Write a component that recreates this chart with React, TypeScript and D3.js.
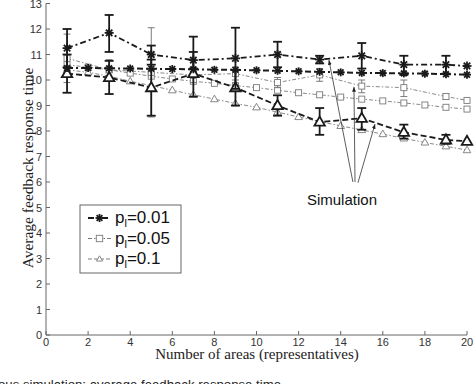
import React from "react";
import * as d3 from "d3";

const W = 474;
const H = 384;

const allX = [1, 2, 3, 4, 5, 6, 7, 8, 9, 10, 11, 12, 13, 14, 15, 16, 17, 18, 19, 20];
const simX = [1, 3, 5, 7, 9, 11, 13, 15, 17, 19, 20];

// p=0.01
const starSim = [11.25, 11.85, 11.0, 10.78, 10.85, 11.0, 10.8, 10.95, 10.6, 10.6, 10.55];
const starLo = [10.5, 11.1, 10.6, 10.45, 9.65, 10.5, 10.65, 10.45, 10.2, 10.25, null];
const starHi = [12.0, 12.55, 11.35, 11.7, 12.05, 11.5, 10.95, 11.45, 10.95, 10.95, null];
const starAna = [10.47, 10.47, 10.46, 10.45, 10.44, 10.43, 10.42, 10.4, 10.4, 10.38, 10.36, 10.34, 10.32, 10.3, 10.28, 10.27, 10.26, 10.25, 10.23, 10.21];

// p=0.05
const sqSim = [10.85, 10.4, 10.3, 10.2, 10.25, 9.9, 10.2, 9.76, 9.7, 9.35, 9.2];
const sqLo = [9.9, 10.0, 8.55, 9.9, 10.0, 9.7, 9.95, 9.5, 9.35, 9.25, null];
const sqHi = [11.8, 10.8, 12.05, 10.5, 10.5, 10.1, 10.45, 10.0, 10.0, 9.45, null];
const sqAna = [10.6, 10.5, 10.4, 10.27, 10.15, 10.04, 9.95, 9.87, 9.78, 9.7, 9.6, 9.5, 9.42, 9.33, 9.25, 9.18, 9.1, 9.02, 8.93, 8.86];

// p=0.1
const triSim = [10.25, 10.1, 9.7, 10.25, 9.7, 9.0, 8.35, 8.5, 7.95, 7.65, 7.6];
const triLo = [9.5, 9.45, 8.6, 9.35, 9.0, 8.6, 7.85, 8.05, 7.7, 7.5, null];
const triHi = [11.0, 10.75, 10.8, 11.1, 10.4, 9.4, 8.9, 8.9, 8.25, 7.85, null];
const triAna = [10.4, 10.3, 10.15, 9.95, 9.78, 9.6, 9.42, 9.25, 9.08, 8.93, 8.74, 8.55, 8.37, 8.2, 8.04, 7.88, 7.71, 7.55, 7.4, 7.25];

const xTicks = [0, 2, 4, 6, 8, 10, 12, 14, 16, 18, 20];
const yTicks = [0, 1, 2, 3, 4, 5, 6, 7, 8, 9, 10, 11, 12, 13];
const legendLabels = ["0.01", "0.05", "0.1"];

// annotation arrows (data units): base -> tip
const arrowBaseX = [14.58, 14.68, 14.82];
const arrowBaseY = [6.0, 6.0, 5.97];
const arrowTipX = [13.44, 14.63, 15.63];
const arrowTipY = [10.78, 9.73, 8.27];

const BLACK = "#1a1a1a";
const GRAY = "#7a7a7a";

const x = d3.scaleLinear().domain([0, 20]).range([46, 467]);
const y = d3.scaleLinear().domain([0, 13]).range([335, 3.5]);

function Star({ cx, cy, r, color, sw }: any) {
  const d = r * 0.72;
  return (
    <g stroke={color} strokeWidth={sw}>
      <line x1={cx - r} y1={cy} x2={cx + r} y2={cy} />
      <line x1={cx} y1={cy - r} x2={cx} y2={cy + r} />
      <line x1={cx - d} y1={cy - d} x2={cx + d} y2={cy + d} />
      <line x1={cx - d} y1={cy + d} x2={cx + d} y2={cy - d} />
    </g>
  );
}
function Square({ cx, cy, r, color, sw }: any) {
  return <rect x={cx - r} y={cy - r} width={2 * r} height={2 * r} fill="white" stroke={color} strokeWidth={sw} />;
}
function Tri({ cx, cy, r, color, sw }: any) {
  const p = `${cx},${cy - r} ${cx - r * 0.95},${cy + r * 0.65} ${cx + r * 0.95},${cy + r * 0.65}`;
  return <polygon points={p} fill="white" stroke={color} strokeWidth={sw} />;
}

function Series({ xs, ys, color, sw, dash, Marker, r, msw }: any) {
  const line = d3.line<number>().x((_, i) => x(xs[i])).y((v) => y(v));
  return (
    <g>
      <path d={line(ys) || ""} fill="none" stroke={color} strokeWidth={sw} strokeDasharray={dash} />
      {ys.map((v: number, i: number) => (
        <Marker key={i} cx={x(xs[i])} cy={y(v)} r={r} color={color} sw={msw} />
      ))}
    </g>
  );
}

function ErrBars({ xs, lo, hi, color, sw, cap }: any) {
  return (
    <g stroke={color} strokeWidth={sw}>
      {lo.map((l: number | null, i: number) => {
        if (l == null) return null;
        const h = hi[i];
        const px = x(xs[i]);
        return (
          <g key={i}>
            <line x1={px} x2={px} y1={y(l)} y2={y(h)} />
            <line x1={px - cap} x2={px + cap} y1={y(l)} y2={y(l)} />
            <line x1={px - cap} x2={px + cap} y1={y(h)} y2={y(h)} />
          </g>
        );
      })}
    </g>
  );
}

export default function App() {
  const sans = "'Liberation Sans', Arial, sans-serif";
  const serif = "'Liberation Serif', 'Times New Roman', serif";
  const legendMarkers = [Star, Square, Tri];
  const legendColors = [BLACK, GRAY, GRAY];
  const legendSW = [2, 1, 1];
  const legendDash = ["6,3,2,3", "4,2,1.5,2", "4,2"];
  return (
    <svg width={W} height={H} style={{ position: "absolute", left: 0, top: 0, background: "white" }}>
      <rect width={W} height={H} fill="white" />
      {/* axes */}
      <g stroke="#666" strokeWidth={1} fill="none">
        <line x1={x(0)} x2={x(20)} y1={y(0)} y2={y(0)} />
        <line x1={x(0)} x2={x(0)} y1={y(0)} y2={y(13)} />
        {xTicks.map((t) => (
          <line key={"xt" + t} x1={x(t)} x2={x(t)} y1={y(0)} y2={y(0) - 4} />
        ))}
        {yTicks.map((t) => (
          <line key={"yt" + t} x1={x(0)} x2={x(0) + 4} y1={y(t)} y2={y(t)} />
        ))}
      </g>
      <g fontFamily={sans} fontSize={11} fill="#333">
        {xTicks.map((t) => (
          <text key={"xl" + t} x={x(t)} y={y(0) + 11} textAnchor="middle">
            {t}
          </text>
        ))}
        {yTicks.map((t) => (
          <text key={"yl" + t} x={x(0) - 4} y={y(t) + 4} textAnchor="end">
            {t}
          </text>
        ))}
      </g>
      <text x={257} y={359} textAnchor="middle" fontFamily={serif} fontSize={15} fill="#222">
        Number of areas (representatives)
      </text>
      <text transform={`translate(33,168) rotate(-90)`} textAnchor="middle" fontFamily={serif} fontSize={15.5} fill="#222">
        Average feedback response time
      </text>
      <text x={281} y={389} textAnchor="end" fontFamily={sans} fontSize={13.2} fill="#222">
        ous simulation: average feedback response time
      </text>

      {/* analysis curves */}
      <Series xs={allX} ys={triAna} color={GRAY} sw={0.9} dash="4,2,1.5,2" Marker={Tri} r={4} msw={0.9} />
      <Series xs={allX} ys={sqAna} color={GRAY} sw={0.9} dash="4,2,1.5,2" Marker={Square} r={3} msw={0.9} />
      {/* simulation curves */}
      <ErrBars xs={simX} lo={sqLo} hi={sqHi} color={GRAY} sw={1} cap={3.5} />
      <Series xs={simX} ys={sqSim} color={GRAY} sw={0.9} dash="4,2,1.5,2" Marker={Square} r={3} msw={0.9} />
      <ErrBars xs={simX} lo={triLo} hi={triHi} color={BLACK} sw={1.8} cap={4.5} />
      <Series xs={simX} ys={triSim} color={BLACK} sw={1.8} dash="6,3" Marker={Tri} r={5.5} msw={1.8} />
      <Series xs={allX} ys={starAna} color={BLACK} sw={2} dash="6,3,2,3" Marker={Star} r={4} msw={1.8} />
      <ErrBars xs={simX} lo={starLo} hi={starHi} color={BLACK} sw={1.8} cap={4.5} />
      <Series xs={simX} ys={starSim} color={BLACK} sw={1.8} dash="6,3,2,3" Marker={Star} r={4.5} msw={1.8} />

      {/* annotation */}
      <defs>
        <marker id="ah" viewBox="0 0 10 10" refX="10" refY="5" markerWidth="6" markerHeight="6" orient="auto">
          <path d="M0,1 L10,5 L0,9 z" fill="#222" />
        </marker>
      </defs>
      <g stroke="#333" strokeWidth={0.8}>
        {arrowTipX.map((tx, i) => (
          <line key={i} x1={x(arrowBaseX[i])} y1={y(arrowBaseY[i])} x2={x(tx)} y2={y(arrowTipY[i])} markerEnd="url(#ah)" />
        ))}
      </g>
      <text x={x(14.06)} y={y(5.1)} textAnchor="middle" fontFamily={sans} fontSize={15} fill="#111">
        Simulation
      </text>

      {/* legend */}
      <rect x={80} y={205} width={101} height={68} fill="white" stroke="#666" strokeWidth={1} />
      {legendLabels.map((lab, i) => {
        const cy = 218 + i * 20.5;
        const M = legendMarkers[i];
        return (
          <g key={lab}>
            <line x1={88} x2={111} y1={cy} y2={cy} stroke={legendColors[i]} strokeWidth={legendSW[i]} strokeDasharray={legendDash[i]} />
            <M cx={99.5} cy={cy} r={i === 0 ? 4 : 3.2} color={legendColors[i]} sw={i === 0 ? 1.8 : 0.9} />
            <text x={115} y={cy + 5} fontFamily={sans} fontSize={17} fill="#111">
              p
              <tspan fontSize={11} dy={4}>
                l
              </tspan>
              <tspan dy={-4}>={lab}</tspan>
            </text>
          </g>
        );
      })}
    </svg>
  );
}
